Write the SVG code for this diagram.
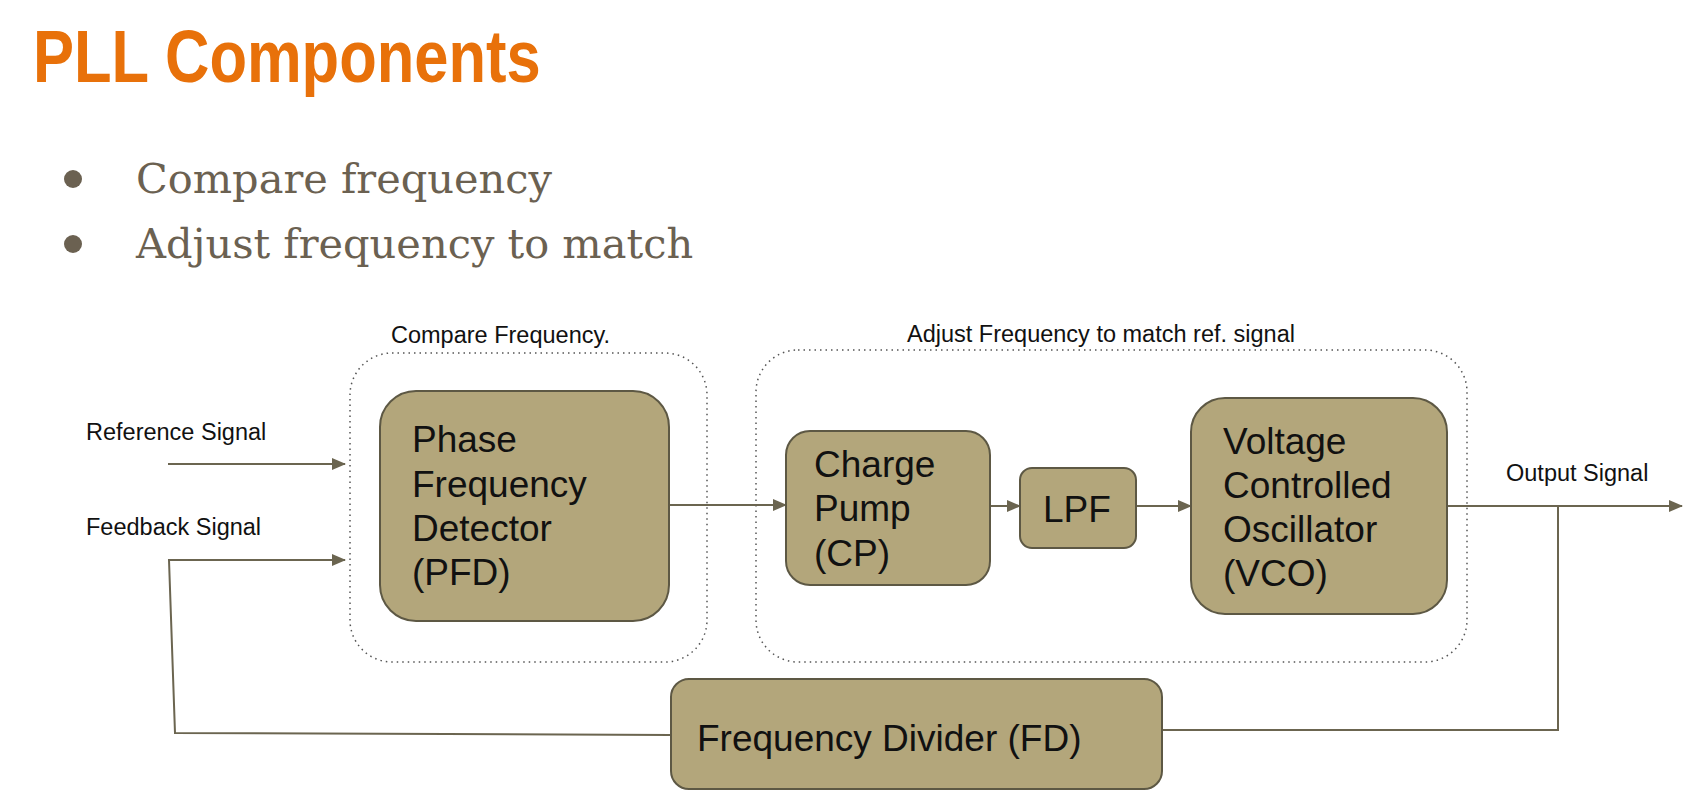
<svg xmlns="http://www.w3.org/2000/svg" width="1701" height="800" viewBox="0 0 1701 800">
<style>
.box{fill:#b3a67b;stroke:#5d5844;stroke-width:2}
.bt{font-family:"Liberation Sans",Arial,sans-serif;font-size:37px;fill:#111}
.lb{font-family:"Liberation Sans",Arial,sans-serif;font-size:23.5px;fill:#111}
.dot{fill:none;stroke:#555;stroke-width:1.5;stroke-dasharray:1.5 4}
.ln{fill:none;stroke:#6b6550;stroke-width:2}
.bul{font-family:Georgia,"DejaVu Serif","Liberation Serif",serif;font-size:41.5px;fill:#6b6151}
</style>
<defs><marker id="ah" markerWidth="14" markerHeight="14" refX="13" refY="7" orient="auto" markerUnits="userSpaceOnUse"><path d="M0,1 L14,7 L0,13 z" fill="#6b6550"/></marker></defs>
<rect width="1701" height="800" fill="#fff"/>
<text x="33" y="82" transform="translate(33 0) scale(0.94 1) translate(-33 0)" font-family="'Liberation Sans Narrow','Liberation Sans',sans-serif" font-weight="bold" font-size="74" fill="#e8710a" textLength="540" lengthAdjust="spacingAndGlyphs">PLL Components</text>
<circle cx="73" cy="179" r="9" fill="#6b6151"/>
<circle cx="73" cy="244" r="9" fill="#6b6151"/>
<text class="bul" x="136" y="193">Compare frequency</text>
<text class="bul" x="136" y="258">Adjust frequency to match</text>
<rect class="dot" x="350" y="353" width="357" height="309" rx="42"/>
<rect class="dot" x="756" y="350" width="711" height="312" rx="42"/>
<text class="lb" x="391" y="343">Compare Frequency.</text>
<text class="lb" x="907" y="342">Adjust Frequency to match ref. signal</text>
<text class="lb" x="86" y="440">Reference Signal</text>
<text class="lb" x="86" y="535">Feedback Signal</text>
<text class="lb" x="1506" y="481">Output Signal</text>
<g id="connectors">
<path class="ln" d="M168,464 H345" marker-end="url(#ah)"/>
<path class="ln" d="M671,735 L175,733 L169,560 H345" marker-end="url(#ah)"/>
<path class="ln" d="M669,505 H786" marker-end="url(#ah)"/>
<path class="ln" d="M990,506 H1020" marker-end="url(#ah)"/>
<path class="ln" d="M1136,506 H1191" marker-end="url(#ah)"/>
<path class="ln" d="M1447,506 H1682" marker-end="url(#ah)"/>
<path class="ln" d="M1558,506 V730 H1162"/>
</g>
<g id="pfd"><rect class="box" x="380" y="391" width="289" height="230" rx="36"/>
<text class="bt" x="412" y="452">Phase</text><text class="bt" x="412" y="497">Frequency</text><text class="bt" x="412" y="541">Detector</text><text class="bt" x="412" y="585">(PFD)</text></g>
<g id="cp"><rect class="box" x="786" y="431" width="204" height="154" rx="24"/>
<text class="bt" x="814" y="477">Charge</text><text class="bt" x="814" y="521">Pump</text><text class="bt" x="814" y="566">(CP)</text></g>
<g id="lpf"><rect class="box" x="1020" y="468" width="116" height="80" rx="12"/>
<text class="bt" x="1043" y="522">LPF</text></g>
<g id="vco"><rect class="box" x="1191" y="398" width="256" height="216" rx="34"/>
<text class="bt" x="1223" y="454">Voltage</text><text class="bt" x="1223" y="498">Controlled</text><text class="bt" x="1223" y="542">Oscillator</text><text class="bt" x="1223" y="586">(VCO)</text></g>
<g id="fd"><rect class="box" x="671" y="679" width="491" height="110" rx="18"/>
<text class="bt" x="697" y="751">Frequency Divider (FD)</text></g>
</svg>
